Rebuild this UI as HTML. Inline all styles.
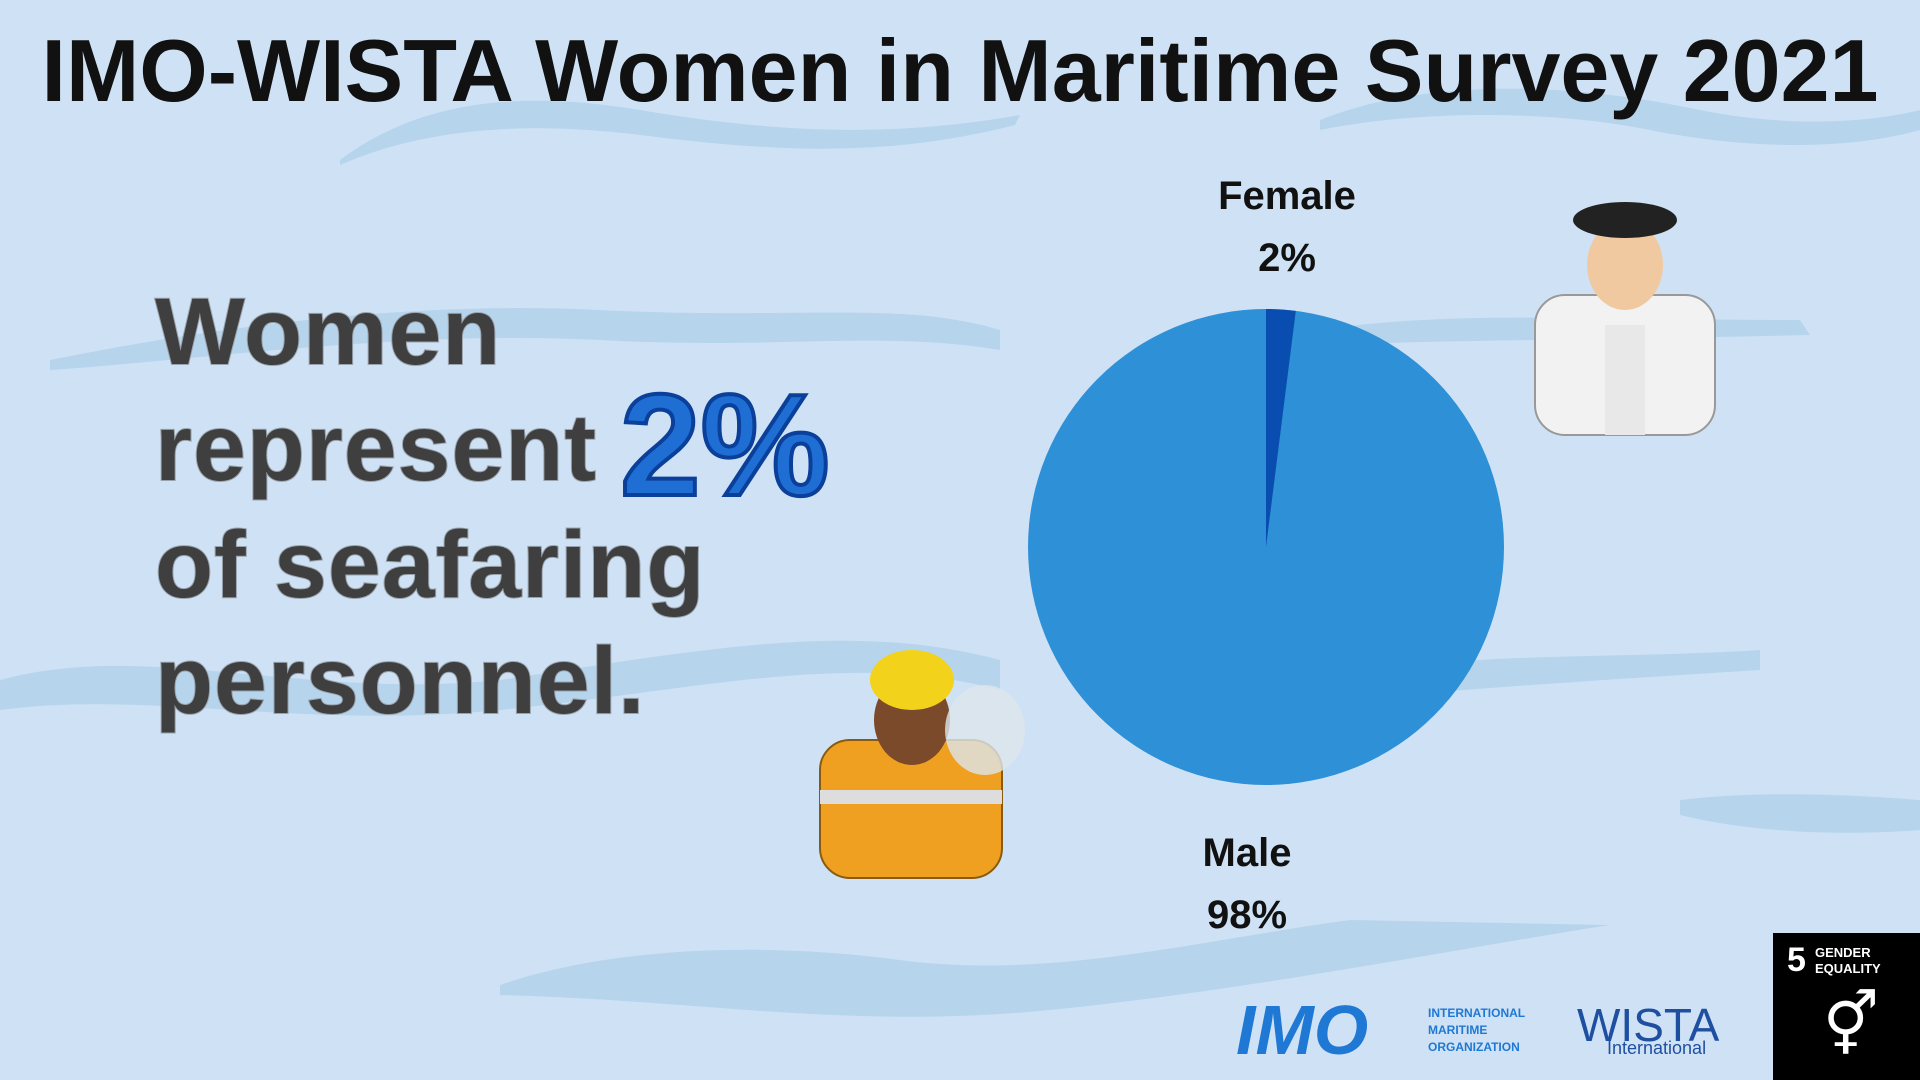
<!DOCTYPE html>
<html><head><meta charset="utf-8"><style>
body{margin:0;width:1920px;height:1080px;overflow:hidden;background:#cfe2f5;font-family:"Liberation Sans",sans-serif;position:relative}
.t{position:absolute;font-weight:bold;white-space:nowrap}
.big{color:#3f3f3f;font-size:95px;left:155px;-webkit-text-stroke:2px #9aa3ad;paint-order:stroke fill;letter-spacing:1px}
</style></head><body>
<svg width="1920" height="1080" style="position:absolute;left:0;top:0">
<g fill="#b6d5ec">
<path d="M340 160 C420 100 520 90 640 110 C760 130 880 140 1020 115 L1015 125 C880 160 760 150 640 135 C520 120 420 130 340 165Z"/>
<path d="M1320 120 C1420 80 1560 80 1700 110 C1800 130 1880 120 1920 110 L1920 130 C1850 150 1750 150 1650 130 C1550 110 1420 110 1320 130Z"/>
<path d="M50 360 C200 330 400 300 600 310 C800 320 900 300 1000 330 L1000 350 C880 330 780 350 600 340 C400 330 200 360 50 370Z"/>
<path d="M1320 330 C1450 310 1600 320 1800 320 L1810 335 C1600 340 1450 340 1320 345Z"/>
<path d="M0 680 C150 640 300 700 500 680 C700 650 850 620 1000 660 L1000 690 C850 650 700 690 500 710 C300 730 150 690 0 710Z"/>
<path d="M1350 680 C1450 650 1600 660 1760 650 L1760 670 C1600 680 1450 690 1350 700Z"/>
<path d="M1680 800 C1760 790 1860 795 1920 800 L1920 830 C1860 835 1760 835 1680 815Z"/>
<path d="M500 985 C600 950 750 940 900 960 C1050 980 1200 940 1350 920 L1610 925 C1450 950 1250 990 1050 1010 C850 1030 700 1000 500 995Z"/>
</g>
<circle cx="1266" cy="547" r="238" fill="#2e90d6"/>
<path d="M1266 547 L1266 309 A238 238 0 0 1 1295.8 310.9 Z" fill="#0a4db0"/>
<g transform="translate(1535,195)">
<rect x="0" y="100" width="180" height="140" rx="30" fill="#f2f2f2" stroke="#999" stroke-width="2"/>
<ellipse cx="90" cy="70" rx="38" ry="45" fill="#f0c9a0"/>
<ellipse cx="90" cy="25" rx="52" ry="18" fill="#222"/>
<rect x="70" y="130" width="40" height="110" fill="#e8e8e8"/>
</g>
<g transform="translate(820,640)">
<rect x="0" y="100" width="182" height="138" rx="30" fill="#f0a020" stroke="#8a5a10" stroke-width="2"/>
<rect x="0" y="150" width="182" height="14" fill="#ddd"/>
<ellipse cx="92" cy="80" rx="38" ry="45" fill="#7a4a2a"/>
<ellipse cx="92" cy="40" rx="42" ry="30" fill="#f2d21a"/>
<ellipse cx="165" cy="90" rx="40" ry="45" fill="#dde6ec" opacity=".8"/>
</g>
</svg>
<div class="t" style="left:0;width:1920px;text-align:center;top:20px;font-size:88px;color:#111">IMO-WISTA Women in Maritime Survey 2021</div>
<div class="t big" style="top:278px">Women</div>
<div class="t big" style="top:394px">represent</div>
<div class="t big" style="top:511px">of seafaring</div>
<div class="t big" style="top:627px">personnel.</div>
<div class="t" style="left:620px;top:362px;font-size:145px;color:#1f6ed4;-webkit-text-stroke:4px #0a3f9a">2%</div>
<div class="t" style="left:1187px;top:165px;width:200px;text-align:center;font-size:40px;color:#111;line-height:62px">Female<br>2%</div>
<div class="t" style="left:1147px;top:822px;width:200px;text-align:center;font-size:40px;color:#111;line-height:62px">Male<br>98%</div>
<div class="t" style="left:1236px;top:990px;font-size:70px;color:#1f78d4;font-style:italic">IMO</div>
<div class="t" style="left:1428px;top:1005px;font-size:12px;color:#1f78d4;line-height:17px">INTERNATIONAL<br>MARITIME<br>ORGANIZATION</div>
<div class="t" style="left:1577px;top:998px;font-size:46px;color:#1f4fa0;font-weight:normal">WISTA</div>
<div class="t" style="left:1607px;top:1038px;font-size:18px;color:#1f4fa0;font-weight:normal">International</div>
<div style="position:absolute;left:1773px;top:933px;width:147px;height:147px;background:#000;color:#fff">
<div class="t" style="left:14px;top:8px;font-size:34px">5</div>
<div class="t" style="left:42px;top:12px;font-size:13px;line-height:16px">GENDER<br>EQUALITY</div>
<div class="t" style="left:50px;top:55px;font-size:62px;font-weight:normal">⚥</div>
</div>
</body></html>
